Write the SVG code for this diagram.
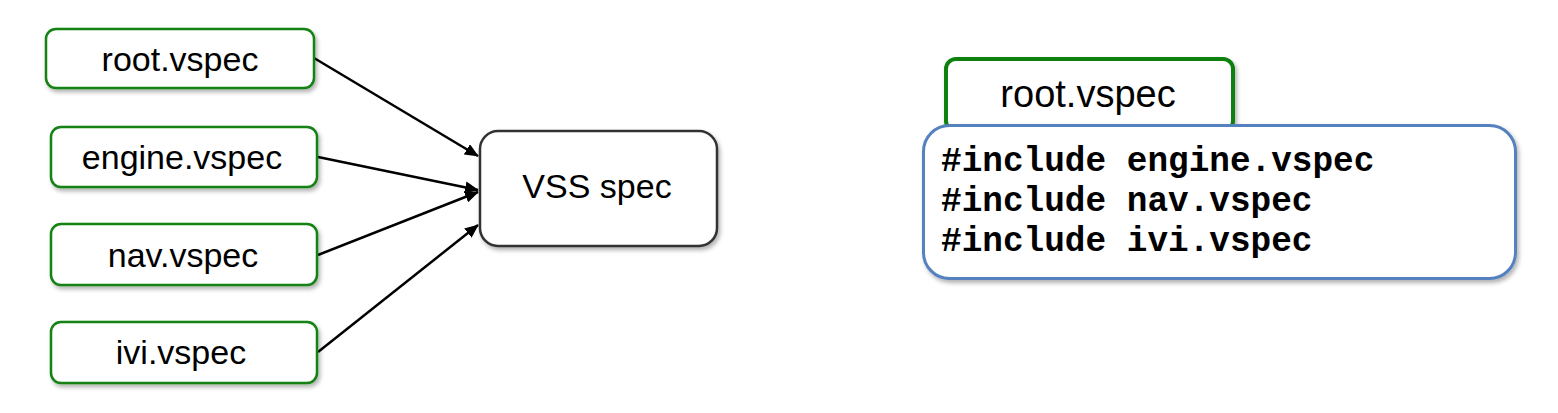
<svg xmlns="http://www.w3.org/2000/svg" width="1558" height="413" viewBox="0 0 1558 413">
<style>
.file{fill:#fff;stroke:#128212;stroke-width:2.5}
.main{fill:#fff;stroke:#333;stroke-width:2.5}
.lbl{font-family:"Liberation Sans",Arial,sans-serif;font-size:34px;fill:#000;text-anchor:middle}
.code{font-family:"Liberation Mono","Courier New",monospace;font-weight:bold;font-size:34.4px;fill:#000}
.conn{stroke:#000;stroke-width:2.5;fill:none}
</style>
<defs>
<filter id="sh" x="-10%" y="-10%" width="130%" height="140%">
<feDropShadow dx="2" dy="3" stdDeviation="2" flood-color="#000" flood-opacity="0.3"/>
</filter>
<marker id="ah" markerWidth="14" markerHeight="12" refX="13" refY="6" orient="auto" markerUnits="userSpaceOnUse" viewBox="0 0 14 12">
<path d="M0,0 L14,6 L0,12 z" fill="#000"/>
</marker>
</defs>
<rect width="1558" height="413" fill="#fff"/>
<g id="connectors">
<line class="conn" x1="314" y1="58" x2="478" y2="156" marker-end="url(#ah)"/>
<line class="conn" x1="318" y1="157" x2="478" y2="190" marker-end="url(#ah)"/>
<line class="conn" x1="318" y1="255" x2="478" y2="192" marker-end="url(#ah)"/>
<line class="conn" x1="318" y1="352" x2="478" y2="225" marker-end="url(#ah)"/>
</g>
<g id="root-left">
<rect class="file" x="46" y="29" width="268" height="59" rx="10" filter="url(#sh)"/>
<text class="lbl" x="180" y="71">root.vspec</text>
</g>
<g id="engine">
<rect class="file" x="51" y="127" width="266" height="60" rx="10" filter="url(#sh)"/>
<text class="lbl" x="182" y="169">engine.vspec</text>
</g>
<g id="nav">
<rect class="file" x="51" y="224" width="266" height="61" rx="10" filter="url(#sh)"/>
<text class="lbl" x="183" y="267">nav.vspec</text>
</g>
<g id="ivi">
<rect class="file" x="51" y="322" width="266" height="61" rx="10" filter="url(#sh)"/>
<text class="lbl" x="181" y="364">ivi.vspec</text>
</g>
<g id="vss">
<rect class="main" x="480" y="131" width="237" height="115" rx="18" filter="url(#sh)"/>
<text class="lbl" x="597" y="198">VSS spec</text>
</g>
<g id="root-right">
<rect x="946" y="59" width="287" height="72" rx="10" fill="#fff" stroke="#108010" stroke-width="4" filter="url(#sh)"/>
<text class="lbl" x="1088" y="107" style="font-size:38px">root.vspec</text>
</g>
<g id="includes">
<rect x="923.5" y="125.5" width="592" height="153" rx="26" fill="#fff" stroke="#5481bf" stroke-width="3" filter="url(#sh)"/>
<text class="code" x="941" y="171">#include engine.vspec</text>
<text class="code" x="941" y="211">#include nav.vspec</text>
<text class="code" x="941" y="251">#include ivi.vspec</text>
</g>
</svg>
